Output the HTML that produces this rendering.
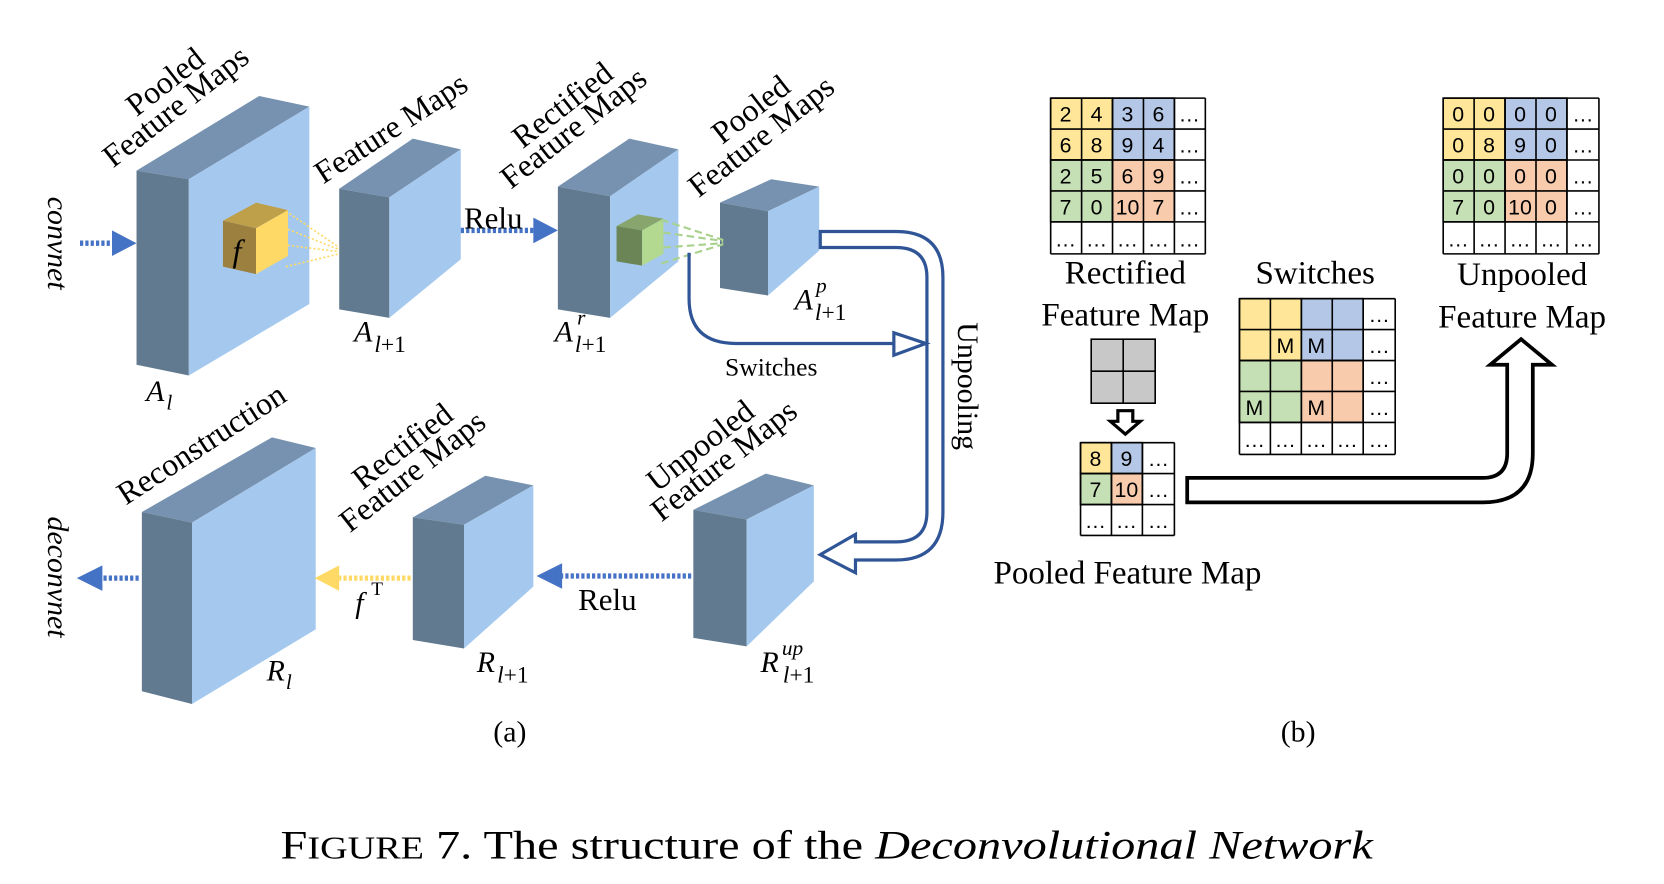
<!DOCTYPE html>
<html><head><meta charset="utf-8"><style>
html,body{margin:0;padding:0;background:#fff;}
svg{display:block;}
text{font-family:"Liberation Serif",serif;fill:#000;}
.s{font-family:"Liberation Sans",sans-serif;font-size:20px;text-anchor:middle;}
</style></head><body>
<svg width="1664" height="884" viewBox="0 0 1560 828.75" xmlns="http://www.w3.org/2000/svg">
<g>
<polygon points="128,160 177,168 290,100 243,90" fill="#7692b0"/>
<polygon points="128,160 177,168 177,352 128,342" fill="#627a90"/>
<polygon points="177,168 290,100 290,285 177,352" fill="#a5c9ee"/>
<polygon points="318,177 365,185 432,140 387,130" fill="#7692b0"/>
<polygon points="318,177 365,185 365,298 318,290" fill="#627a90"/>
<polygon points="365,185 432,140 432,243 365,298" fill="#a5c9ee"/>
<polygon points="523,175 572,184 636,140 590,130" fill="#7692b0"/>
<polygon points="523,175 572,184 572,298 523,290" fill="#627a90"/>
<polygon points="572,184 636,140 636,245 572,298" fill="#a5c9ee"/>
<polygon points="675,190 720,198 768,175 723,168" fill="#7692b0"/>
<polygon points="675,190 720,198 720,277 675,270" fill="#627a90"/>
<polygon points="720,198 768,175 768,235 720,277" fill="#a5c9ee"/>
<polygon points="133,480 180,490 296,420 255,410" fill="#7692b0"/>
<polygon points="133,480 180,490 180,660 133,648" fill="#627a90"/>
<polygon points="180,490 296,420 296,590 180,660" fill="#a5c9ee"/>
<polygon points="387,485 435,492 500,455 455,446" fill="#7692b0"/>
<polygon points="387,485 435,492 435,608 387,600" fill="#627a90"/>
<polygon points="435,492 500,455 500,550 435,608" fill="#a5c9ee"/>
<polygon points="650,478 700,487 763,455 718,444" fill="#7692b0"/>
<polygon points="650,478 700,487 700,606 650,598" fill="#627a90"/>
<polygon points="700,487 763,455 763,545 700,606" fill="#a5c9ee"/>
</g>
<polygon points="209,207 240,214 270,197 240,190" fill="#bfa04a"/>
<polygon points="209,207 240,214 240,257 209,250" fill="#9c8040"/>
<polygon points="240,214 270,197 270,240 240,257" fill="#ffd966"/>
<text x="218" y="245" font-size="30" font-style="italic">f</text>
<g stroke="#ffd966" stroke-width="1.5" stroke-dasharray="2,2">
<line x1="268" y1="198" x2="318" y2="232"/><line x1="270" y1="215" x2="318" y2="234"/>
<line x1="270" y1="230" x2="318" y2="236"/><line x1="268" y1="250" x2="318" y2="238"/>
</g>
<polygon points="578,212 602,216 622,205 598,201" fill="#87a56c"/>
<polygon points="578,212 602,216 602,249 578,245" fill="#6b8556"/>
<polygon points="602,216 622,205 622,238 602,249" fill="#b2d98f"/>
<g stroke="#a9d18e" stroke-width="2" stroke-dasharray="7,4">
<line x1="620" y1="206" x2="678" y2="225"/><line x1="622" y1="218" x2="678" y2="226"/>
<line x1="622" y1="232" x2="678" y2="228"/><line x1="620" y1="247" x2="678" y2="229"/>
</g>
<g stroke-width="5" stroke-dasharray="3,2" fill="none">
<line x1="75" y1="228" x2="106" y2="228" stroke="#4472c4"/>
<line x1="432" y1="216" x2="501" y2="216" stroke="#4472c4"/>
<line x1="648" y1="540" x2="526" y2="540" stroke="#4472c4"/>
<line x1="385" y1="542" x2="318" y2="542" stroke="#ffd966"/>
<line x1="130" y1="542" x2="96" y2="542" stroke="#4472c4"/>
</g>
<polygon points="105,216 128,228 105,240" fill="#4472c4"/>
<polygon points="500,204 523,216 500,228" fill="#4472c4"/>
<polygon points="527,528 503,540 527,552" fill="#4472c4"/>
<polygon points="318,530 295,542 318,554" fill="#ffd966"/>
<polygon points="96,530 72,542 96,554" fill="#4472c4"/>
<text x="435" y="214" font-size="29">Relu</text>
<text x="542" y="572" font-size="29">Relu</text>
<text x="333" y="574" font-size="28" font-style="italic">f</text><text x="348" y="558" font-size="18">T</text>
<text transform="translate(45,228) rotate(90)" font-size="28" font-style="italic" text-anchor="middle">convnet</text>
<text transform="translate(45,541) rotate(90)" font-size="28" font-style="italic" text-anchor="middle">deconvnet</text>
<g font-size="30">
<text transform="translate(128,110) rotate(-38)">Pooled</text>
<text transform="translate(106,158) rotate(-38)">Feature Maps</text>
<text transform="translate(303,173) rotate(-33)">Feature Maps</text>
<text transform="translate(490,140) rotate(-38)">Rectified</text>
<text transform="translate(479,178) rotate(-38)">Feature Maps</text>
<text transform="translate(677,136) rotate(-38)">Pooled</text>
<text transform="translate(655,186) rotate(-38)">Feature Maps</text>
<text transform="translate(118,474) rotate(-33)">Reconstruction</text>
<text transform="translate(340,460) rotate(-38)">Rectified</text>
<text transform="translate(328,500) rotate(-38)">Feature Maps</text>
<text transform="translate(616,462) rotate(-38)">Unpooled</text>
<text transform="translate(620,490) rotate(-38)">Feature Maps</text>
</g>
<g font-size="28" font-style="italic">
<text x="137" y="376">A</text><text x="156" y="384" font-size="20">l</text>
<text x="332" y="320">A</text><text x="351" y="330" font-size="22" font-style="normal"><tspan font-style="italic">l</tspan>+1</text>
<text x="520" y="320">A</text><text x="541" y="304" font-size="20">r</text><text x="539" y="330" font-size="22" font-style="normal"><tspan font-style="italic">l</tspan>+1</text>
<text x="745" y="290">A</text><text x="765" y="274" font-size="20">p</text><text x="764" y="300" font-size="22" font-style="normal"><tspan font-style="italic">l</tspan>+1</text>
<text x="250" y="638">R</text><text x="268" y="646" font-size="20">l</text>
<text x="447" y="630">R</text><text x="466" y="640" font-size="22" font-style="normal"><tspan font-style="italic">l</tspan>+1</text>
<text x="713" y="630">R</text><text x="733" y="614" font-size="20">up</text><text x="734" y="640" font-size="22" font-style="normal"><tspan font-style="italic">l</tspan>+1</text>
</g>
<path d="M769,217 H840 Q884,217 884,260 V480 Q884,525 840,525 H802 V537 L769,520 L802,501 V508 H840 Q869,508 869,480 V260 Q869,232 840,232 H769 Z" fill="#fff" stroke="#2f5597" stroke-width="3"/>
<path d="M646,237 V280 Q646,322 690,322 H838" fill="none" stroke="#2f5597" stroke-width="3"/>
<polygon points="838,312 868,322 838,333" fill="#fff" stroke="#2f5597" stroke-width="3"/>
<text x="723" y="352" font-size="24" text-anchor="middle">Switches</text>
<text transform="translate(898,362) rotate(90)" font-size="28" text-anchor="middle">Unpooling</text>
<text x="478" y="695" font-size="28" text-anchor="middle">(a)</text>
<text x="1217" y="695" font-size="28" text-anchor="middle">(b)</text>
<g stroke="#000" stroke-width="1.5">
<rect x="985" y="92" width="58" height="58" fill="#ffe699"/><rect x="1043" y="92" width="58" height="58" fill="#b4c7e7"/>
<rect x="985" y="150" width="58" height="58" fill="#c5e0b4"/><rect x="1043" y="150" width="58" height="58" fill="#f8cbad"/>
<rect x="1353" y="92" width="58" height="58" fill="#ffe699"/><rect x="1411" y="92" width="58" height="58" fill="#b4c7e7"/>
<rect x="1353" y="150" width="58" height="58" fill="#c5e0b4"/><rect x="1411" y="150" width="58" height="58" fill="#f8cbad"/>
<rect x="1162" y="280" width="58" height="58" fill="#ffe699"/><rect x="1220" y="280" width="58" height="58" fill="#b4c7e7"/>
<rect x="1162" y="338" width="58" height="58" fill="#c5e0b4"/><rect x="1220" y="338" width="58" height="58" fill="#f8cbad"/>
<rect x="1013" y="415" width="29" height="29" fill="#ffe699"/><rect x="1042" y="415" width="29" height="29" fill="#b4c7e7"/>
<rect x="1013" y="444" width="29" height="29" fill="#c5e0b4"/><rect x="1042" y="444" width="29" height="29" fill="#f8cbad"/>
<rect x="1023" y="318" width="60" height="60" fill="#c8c8c8"/>
<path d="M1053,318 V378 M1023,348 H1083" fill="none"/>
<path d="M985,92 V238 M1014,92 V238 M1043,92 V238 M1072,92 V238 M1101,92 V238 M1130,92 V238 M985,92 H1130 M985,121 H1130 M985,150 H1130 M985,179 H1130 M985,208 H1130 M985,238 H1130" fill="none"/>
<path d="M1353,92 V238 M1382,92 V238 M1411,92 V238 M1440,92 V238 M1469,92 V238 M1499,92 V238 M1353,92 H1499 M1353,121 H1499 M1353,150 H1499 M1353,179 H1499 M1353,208 H1499 M1353,238 H1499" fill="none"/>
<path d="M1162,280 V426 M1191,280 V426 M1220,280 V426 M1249,280 V426 M1278,280 V426 M1308,280 V426 M1162,280 H1308 M1162,309 H1308 M1162,338 H1308 M1162,367 H1308 M1162,396 H1308 M1162,426 H1308" fill="none"/>
<path d="M1013,415 V502 M1042,415 V502 M1071,415 V502 M1101,415 V502 M1013,415 H1101 M1013,444 H1101 M1013,473 H1101 M1013,502 H1101" fill="none"/>
</g>
<g>
<text class="s" x="999" y="114">2</text><text class="s" x="1028" y="114">4</text><text class="s" x="1057" y="114">3</text><text class="s" x="1086" y="114">6</text><text class="s" x="1115" y="114">…</text>
<text class="s" x="999" y="143">6</text><text class="s" x="1028" y="143">8</text><text class="s" x="1057" y="143">9</text><text class="s" x="1086" y="143">4</text><text class="s" x="1115" y="143">…</text>
<text class="s" x="999" y="172">2</text><text class="s" x="1028" y="172">5</text><text class="s" x="1057" y="172">6</text><text class="s" x="1086" y="172">9</text><text class="s" x="1115" y="172">…</text>
<text class="s" x="999" y="201">7</text><text class="s" x="1028" y="201">0</text><text class="s" x="1057" y="201">10</text><text class="s" x="1086" y="201">7</text><text class="s" x="1115" y="201">…</text>
<text class="s" x="999" y="231">…</text><text class="s" x="1028" y="231">…</text><text class="s" x="1057" y="231">…</text><text class="s" x="1086" y="231">…</text><text class="s" x="1115" y="231">…</text>
<text class="s" x="1367" y="114">0</text><text class="s" x="1396" y="114">0</text><text class="s" x="1425" y="114">0</text><text class="s" x="1454" y="114">0</text><text class="s" x="1484" y="114">…</text>
<text class="s" x="1367" y="143">0</text><text class="s" x="1396" y="143">8</text><text class="s" x="1425" y="143">9</text><text class="s" x="1454" y="143">0</text><text class="s" x="1484" y="143">…</text>
<text class="s" x="1367" y="172">0</text><text class="s" x="1396" y="172">0</text><text class="s" x="1425" y="172">0</text><text class="s" x="1454" y="172">0</text><text class="s" x="1484" y="172">…</text>
<text class="s" x="1367" y="201">7</text><text class="s" x="1396" y="201">0</text><text class="s" x="1425" y="201">10</text><text class="s" x="1454" y="201">0</text><text class="s" x="1484" y="201">…</text>
<text class="s" x="1367" y="231">…</text><text class="s" x="1396" y="231">…</text><text class="s" x="1425" y="231">…</text><text class="s" x="1454" y="231">…</text><text class="s" x="1484" y="231">…</text>
<text class="s" x="1293" y="302">…</text>
<text class="s" x="1205" y="331">M</text><text class="s" x="1234" y="331">M</text><text class="s" x="1293" y="331">…</text>
<text class="s" x="1293" y="360">…</text>
<text class="s" x="1176" y="389">M</text><text class="s" x="1234" y="389">M</text><text class="s" x="1293" y="389">…</text>
<text class="s" x="1176" y="419">…</text><text class="s" x="1205" y="419">…</text><text class="s" x="1234" y="419">…</text><text class="s" x="1263" y="419">…</text><text class="s" x="1293" y="419">…</text>
<text class="s" x="1027" y="437">8</text><text class="s" x="1056" y="437">9</text><text class="s" x="1086" y="437">…</text>
<text class="s" x="1027" y="466">7</text><text class="s" x="1056" y="466">10</text><text class="s" x="1086" y="466">…</text>
<text class="s" x="1027" y="495">…</text><text class="s" x="1056" y="495">…</text><text class="s" x="1086" y="495">…</text>
</g>
<polygon points="1048,385 1062,385 1062,395 1069,395 1055,407 1041,395 1048,395" fill="#fff" stroke="#000" stroke-width="3"/>
<path d="M1113,448 L1390,448 Q1413,448 1413,425 L1413,342 L1397,342 L1426,318 L1455,342 L1437,342 L1437,425 Q1437,471 1390,471 L1113,471 Z" fill="#fff" stroke="#000" stroke-width="3.5"/>
<g font-size="31" text-anchor="middle">
<text x="1055" y="266">Rectified</text>
<text x="1055" y="305">Feature Map</text>
<text x="1233" y="266">Switches</text>
<text x="1427" y="267">Unpooled</text>
<text x="1427" y="307">Feature Map</text>
<text x="1057" y="547">Pooled Feature Map</text>
</g>
<text x="263" y="805" font-size="38" textLength="1024" lengthAdjust="spacingAndGlyphs">F<tspan font-size="30">IGURE</tspan> 7.  The structure of the <tspan font-style="italic">Deconvolutional Network</tspan></text>
</svg>
</body></html>
